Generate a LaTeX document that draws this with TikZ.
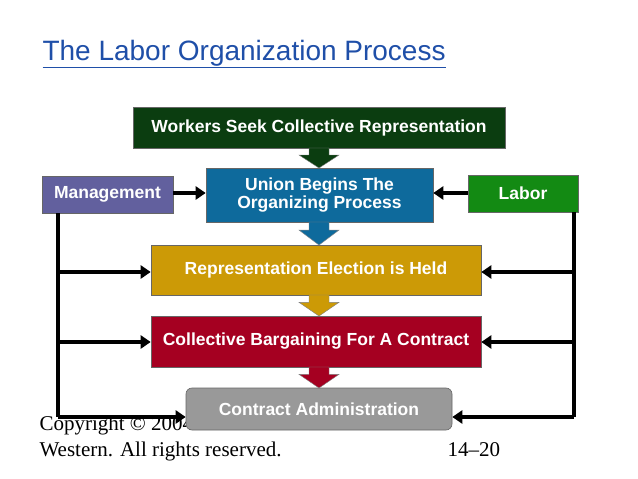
\documentclass[tikz,border=0pt]{standalone}
\usepackage{fontspec}
\setmainfont{Liberation Serif}
\setsansfont{Liberation Sans}
\usetikzlibrary{arrows.meta}
\definecolor{cwork}{HTML}{0B3D10}
\definecolor{cunion}{HTML}{0E6A9C}
\definecolor{cmgmt}{HTML}{62609E}
\definecolor{clab}{HTML}{138A13}
\definecolor{celec}{HTML}{CC9A06}
\definecolor{ccoll}{HTML}{A50021}
\definecolor{cadm}{HTML}{999999}
\definecolor{ctitle}{HTML}{1F4FA8}
\begin{document}
\begin{tikzpicture}[x=1pt,y=-1pt,
  bx/.style={draw=black!60,line width=0.6pt,inner sep=0pt,align=center,text=white,font=\sffamily\bfseries\fontsize{17.5}{18.5}\selectfont},
  ln/.style={line width=4pt},
  ar/.style={ln,-{Triangle[length=10pt,width=13pt]}},
  blk/.style={draw=black!50,line width=0.4pt}]
\useasboundingbox (0,0) rectangle (638,479);
\node[anchor=west,text=ctitle,font=\sffamily\fontsize{28}{31}\selectfont] (title) at (39,54) {\underline{The Labor Organization Process}};
\node[anchor=base west,font=\fontsize{21}{24}\selectfont] (copy1) at (36,430) {Copyright © 2004};
\node[anchor=base west,font=\fontsize{21}{24}\selectfont] (copy2) at (36,456) {Western. All rights reserved.};
\node[anchor=base west,font=\fontsize{21}{24}\selectfont] (pg) at (444,456) {14–20};
% boxes
\node[bx,fill=cwork,minimum width=372,minimum height=41] (work) at (319,127.5) {Workers Seek Collective Representation};
\node[bx,fill=cunion,minimum width=227,minimum height=54] (union) at (319.5,195) {Union Begins The\\Organizing Process};
\node[bx,fill=cmgmt,minimum width=131,minimum height=37] (mgmt) at (107.5,194.5) {Management};
\node[bx,fill=clab,minimum width=110,minimum height=37] (lab) at (523,193.5) {Labor};
\node[bx,fill=celec,minimum width=330,minimum height=50] (elec) at (316,270) {Representation Election is Held};
\node[bx,fill=ccoll,minimum width=330,minimum height=51] (coll) at (316,341.5) {Collective Bargaining For A Contract};
\node[bx,fill=cadm,rounded corners=6pt,minimum width=266,minimum height=42] (adm) at (319,409) {Contract Administration};
% block arrows
\foreach \c/\y/\h in {cwork/148/20,cunion/222/23,celec/295/21,ccoll/367/21}{
  \fill[\c,blk] (309,\y) -- (329,\y) -- (329,\y+\h*0.35) -- (339,\y+\h*0.35) -- (319,\y+\h) -- (299,\y+\h*0.35) -- (309,\y+\h*0.35) -- cycle;
}
% connectors
\coordinate (ml) at (58,213);
\coordinate (mb) at (58,417);
\coordinate (rl) at (574,212);
\coordinate (rb) at (574,417);
\draw[ar] (mgmt.east |- 0,193) -- (union.west |- 0,193);
\draw[ar] (lab.west |- 0,193) -- (union.east |- 0,193);
\draw[ln] (ml) -- (mb);
\draw[ar] (mb) -- (adm.west |- mb);
\draw[ar] (58,272) -- (elec.west |- 0,272);
\draw[ar] (58,342) -- (coll.west |- 0,342);
\draw[ln] (rl) -- (rb);
\draw[ar] (rb) -- (adm.east |- rb);
\draw[ar] (574,272) -- (elec.east |- 0,272);
\draw[ar] (574,342) -- (coll.east |- 0,342);
\end{tikzpicture}
\end{document}
